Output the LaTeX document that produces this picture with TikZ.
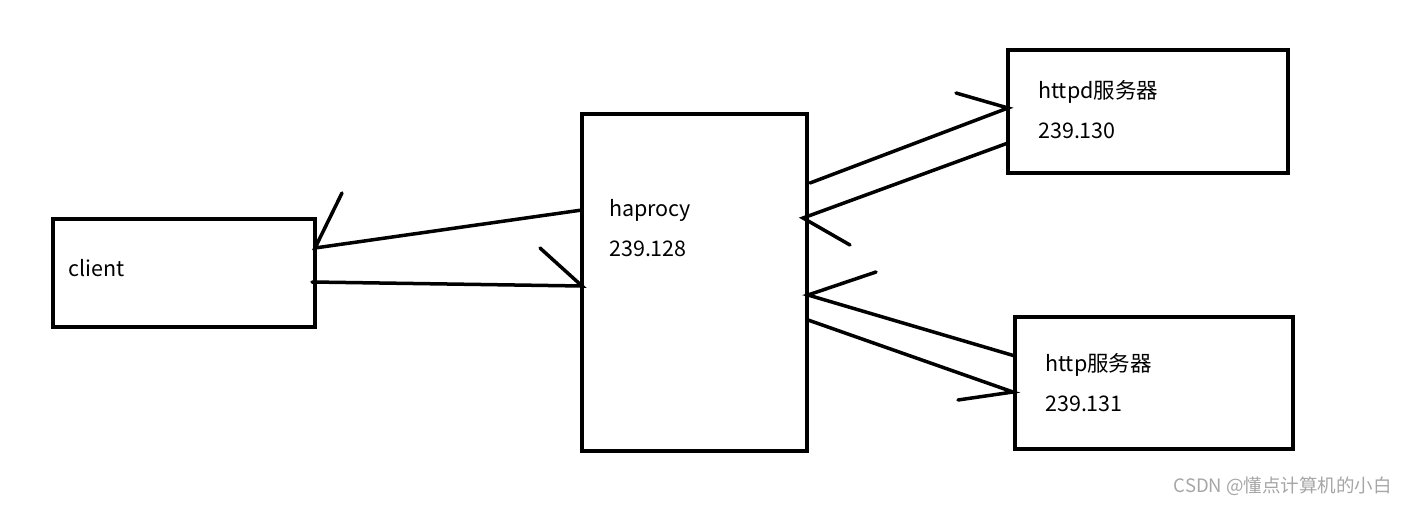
\documentclass[tikz,border=0pt]{standalone}
\usepackage{fontspec}
\setmainfont{Noto Sans CJK SC}
\begin{document}
\begin{tikzpicture}[x=1pt,y=-1pt,
  box/.style={draw,line width=3.5pt},
  ln/.style={line width=3.5pt,line cap=round},
  lbl/.style={anchor=west,inner sep=0pt,font=\fontsize{21.5}{25}\selectfont}]
\useasboundingbox (0,0) rectangle (1406,505);
\draw[box] (53,219) rectangle (315,327);
\draw[box] (582,114) rectangle (807,451);
\draw[box] (1008,50) rectangle (1288,173);
\draw[box] (1015,317) rectangle (1293,449);
\node[lbl] (c) at (68,268) {client};
\node[lbl] (h1) at (609,210) {haprocy};
\node[lbl] (h2) at (609,249) {239.128};
\node[lbl] (a1) at (1038,92) {httpd服务器};
\node[lbl] (a2) at (1038,131) {239.130};
\node[lbl] (b1) at (1045,365) {http服务器};
\node[lbl] (b2) at (1045,404) {239.131};
\node[anchor=east,inner sep=0pt,text=gray!70,font=\fontsize{18.5}{22}\selectfont] (w) at (1392,486) {CSDN @懂点计算机的小白};
\coordinate (p1) at (582,210); \coordinate (q1) at (315,248); \coordinate (r1) at (342,193);
\coordinate (p2) at (312,282); \coordinate (q2) at (582,286); \coordinate (r2) at (540,248);
\coordinate (p3) at (810,183); \coordinate (q3) at (1008,108); \coordinate (r3) at (956,93);
\coordinate (p4) at (1008,143); \coordinate (q4) at (803,218); \coordinate (r4) at (850,245);
\coordinate (p5) at (1015,356); \coordinate (q5) at (808,295); \coordinate (r5) at (876,272);
\coordinate (p6) at (808,320); \coordinate (q6) at (1013,392); \coordinate (r6) at (958,400);
\foreach \i in {1,...,6}{\draw[ln] (p\i) -- (q\i) -- (r\i);}
\end{tikzpicture}
\end{document}
